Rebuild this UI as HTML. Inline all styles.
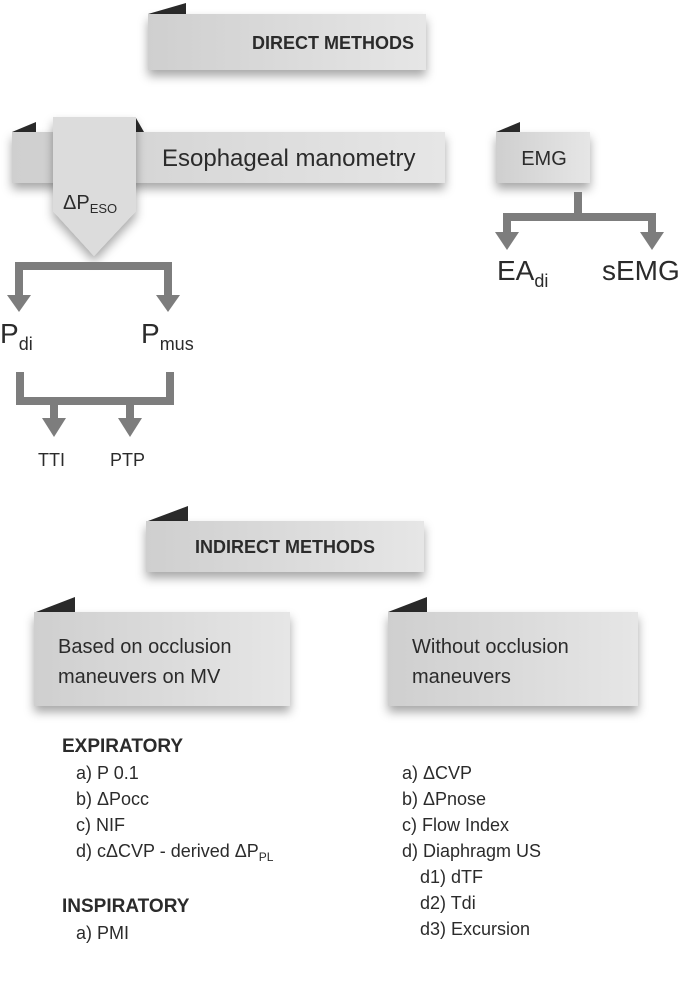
<!DOCTYPE html>
<html><head><style>
html,body{margin:0;padding:0;background:#fff;}
svg text{font-family:"Liberation Sans",sans-serif;fill:#2b2b2b;}
</style></head><body>
<svg width="685" height="980" viewBox="0 0 685 980" xmlns="http://www.w3.org/2000/svg">
<defs>
<linearGradient id="g" x1="0" x2="1" y1="0" y2="0"><stop offset="0" stop-color="#cfcfcf"/><stop offset="1" stop-color="#e6e6e6"/></linearGradient>
<filter id="s" x="-20%" y="-30%" width="140%" height="180%"><feDropShadow dx="0" dy="6" stdDeviation="5" flood-color="#000" flood-opacity="0.35"/></filter>
</defs>
<polygon points="148,14 186,3 186,14" fill="#2a2a2a"/>
<rect x="148" y="14" width="278" height="56" fill="url(#g)" filter="url(#s)"/>
<text x="333" y="49" font-size="18" font-weight="bold" text-anchor="middle">DIRECT METHODS</text>
<polygon points="12,132 36,122 36,132" fill="#2a2a2a"/>
<polygon points="136,118 144,132 136,132" fill="#2a2a2a"/>
<rect x="12" y="132" width="433" height="51" fill="url(#g)" filter="url(#s)"/>
<polygon points="53,117 136,117 136,211 94,256 53,211" fill="#dcdcdc" filter="url(#s)"/>
<text x="162" y="166" font-size="24">Esophageal manometry</text>
<text x="63" y="209" font-size="20">ΔP<tspan font-size="13" dy="4">ESO</tspan></text>
<polygon points="496,132 520,122 520,132" fill="#2a2a2a"/>
<rect x="496" y="132" width="94" height="51" fill="url(#g)" filter="url(#s)"/>
<text x="544" y="165" font-size="20" text-anchor="middle">EMG</text>
<g fill="none" stroke="#7d7d7d" stroke-width="8">
<path d="M578,192 V217 M507,217 H656 M507,213 V238 M652,213 V238"/>
<path d="M19,300 V266 H168 V300"/>
<path d="M20,372 V401 H170 V372 M54,401 V422 M130,401 V422"/>
</g>
<g fill="#7d7d7d">
<polygon points="495,232 519,232 507,250"/>
<polygon points="640,232 664,232 652,250"/>
<polygon points="7,295 31,295 19,312"/><polygon points="156,295 180,295 168,312"/>
<polygon points="42,418 66,418 54,437"/><polygon points="118,418 142,418 130,437"/>
</g>
<text x="497" y="280" font-size="28">EA<tspan font-size="18" dy="7">di</tspan></text>
<text x="602" y="280" font-size="28">sEMG</text>
<text x="0" y="343" font-size="28">P<tspan font-size="18" dy="7">di</tspan></text>
<text x="141" y="343" font-size="28">P<tspan font-size="18" dy="7">mus</tspan></text>
<text x="38" y="466" font-size="18">TTI</text>
<text x="110" y="466" font-size="18">PTP</text>
<polygon points="148,521 188,506 188,521" fill="#2a2a2a"/>
<rect x="146" y="521" width="278" height="51" fill="url(#g)" filter="url(#s)"/>
<text x="285" y="553" font-size="18" font-weight="bold" text-anchor="middle">INDIRECT METHODS</text>
<polygon points="36,612 75,597 75,612" fill="#2a2a2a"/>
<rect x="34" y="612" width="256" height="94" fill="url(#g)" filter="url(#s)"/>
<text x="58" y="653" font-size="20">Based on occlusion</text>
<text x="58" y="683" font-size="20">maneuvers on MV</text>
<polygon points="388,612 427,597 427,612" fill="#2a2a2a"/>
<rect x="388" y="612" width="250" height="94" fill="url(#g)" filter="url(#s)"/>
<text x="412" y="653" font-size="20">Without occlusion</text>
<text x="412" y="683" font-size="20">maneuvers</text>
<g font-size="18">
<text x="62" y="752" font-weight="bold" font-size="19">EXPIRATORY</text>
<text x="76" y="779">a) P 0.1</text>
<text x="76" y="805">b) ΔPocc</text>
<text x="76" y="831">c) NIF</text>
<text x="76" y="857">d) cΔCVP - derived ΔP<tspan font-size="12" dy="4">PL</tspan></text>
<text x="62" y="912" font-weight="bold" font-size="19">INSPIRATORY</text>
<text x="76" y="939">a) PMI</text>
<text x="402" y="779">a) ΔCVP</text>
<text x="402" y="805">b) ΔPnose</text>
<text x="402" y="831">c) Flow Index</text>
<text x="402" y="857">d) Diaphragm US</text>
<text x="420" y="883">d1) dTF</text>
<text x="420" y="909">d2) Tdi</text>
<text x="420" y="935">d3) Excursion</text>
</g>
</svg>
</body></html>
